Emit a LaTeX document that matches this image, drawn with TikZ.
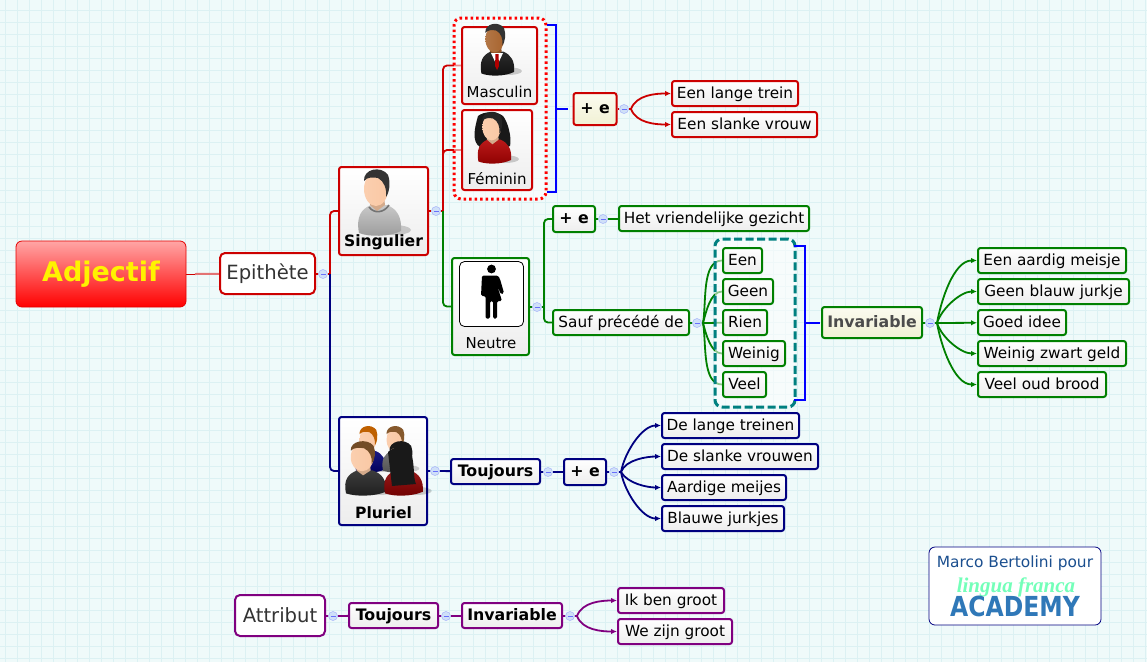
\documentclass[tikz,border=0pt]{standalone}
\usepackage{fontspec}
\setmainfont{DejaVu Sans}
\newfontfamily\logofont{Liberation Serif}
\usetikzlibrary{arrows.meta}
\definecolor{cred}{HTML}{CC0000}
\definecolor{cgreen}{HTML}{008000}
\definecolor{cnavy}{HTML}{000080}
\definecolor{cpurple}{HTML}{800080}
\definecolor{cteal}{HTML}{008080}
\definecolor{cblue}{HTML}{0000FF}
\definecolor{cpaper}{HTML}{EFFAFA}
\definecolor{cgrid}{HTML}{DCF1F3}
\definecolor{cknob}{HTML}{CFE0F8}
\definecolor{cacad}{HTML}{2F78B8}
\definecolor{csign}{HTML}{1B4F8F}
\definecolor{ccreamA}{HTML}{FBFBF0}
\definecolor{ccreamB}{HTML}{F1F1D4}
\definecolor{cface}{HTML}{FAC8A4}
\definecolor{cdark}{HTML}{A8642E}
\pgfdeclarelayer{wirelayer}
\pgfdeclarelayer{grouplayer}
\pgfsetlayers{wirelayer,grouplayer,main}
% bust picture: x, y, scales, clothes, skin, hair
\newcommand{\bustfig}[6]{
	\colorlet{bustcloth}{#4}
	\colorlet{bustskin}{#5}
	\begin{scope}[shift={(#1,#2)},#3]
		\fill[black,opacity=.18] (14,-5) ellipse (18 and 5);
		\shade[top color=bustcloth!90!white,bottom color=bustcloth!80!black] (-20,-2) .. controls (-23,-18) and (-18,-26) .. (-8,-30) -- (8,-30) .. controls (18,-26) and (23,-18) .. (22,-4) .. controls (10,2) and (-10,2) .. (-20,-2) -- cycle;
		\fill[bustskin!85!black] (-9,-38) -- (5,-38) -- (6,-30) -- (-2,-24) -- (-9,-30) -- cycle;
		\shade[left color=bustskin!88!white,right color=bustskin] (-3,-46) ellipse (12 and 17);
		\fill[#6] (-15,-54) .. controls (-16,-66) and (2,-70) .. (9,-60) .. controls (12,-52) and (10,-42) .. (7,-38) .. controls (8,-46) and (5,-54) .. (-1,-57) .. controls (-6,-58) and (-12,-58) .. (-15,-54) -- cycle;
	\end{scope}
}
\tikzset{
	sz/.style 2 args={minimum width=#1-2,minimum height=#2-2},
	leaf/.style={draw,line width=2,rounded corners=2.5,inner sep=0,top color=white,bottom color=black!7,text height=12,text depth=3,font=\fontsize{15.3}{17}\selectfont},
	boldleaf/.style={leaf,font=\fontsize{15.8}{18}\selectfont\bfseries},
	creamleaf/.style={boldleaf,top color=ccreamA,bottom color=ccreamB},
	topic/.style={draw,line width=2,rounded corners=5,fill=white,inner sep=0,text=black!80,font=\fontsize{19.6}{23}\selectfont},
	iconbox/.style={draw,line width=2,rounded corners=2.5,top color=white,bottom color=black!7},
	caption/.style={inner sep=0,font=\fontsize{15}{17}\selectfont},
	boldcaption/.style={inner sep=0,font=\fontsize{15.6}{18}\selectfont\bfseries},
	knob/.style={circle,draw=cknob!80!blue,fill=cknob,line width=.5,minimum size=9,inner sep=0,path picture={\draw[cknob!50!blue,line width=.7] (path picture bounding box.center) ++(-2.5,0) -- ++(5,0);}},
	wire/.style={line width=1.8},
	tipwire/.style={wire,-{Latex[length=6,width=5.5]}},
	groupbox/.style={fill=white,fill opacity=.55,rounded corners=7,inner sep=0},
}
\begin{document}
\begin{tikzpicture}[x=1pt,y=-1pt]
	\useasboundingbox (0,0) rectangle (1147,662);
	\begin{pgfonlayer}{wirelayer}
		\fill[cpaper] (0,0) rectangle (1147,662);
		\foreach \gx in {5,17,...,1145} \draw[cgrid,line width=.7] (\gx,0) -- (\gx,662);
		\foreach \gy in {10.5,22.5,...,660} \draw[cgrid,line width=.7] (0,\gy) -- (1147,\gy);
	\end{pgfonlayer}

	% main topics
	\node[draw=red!90!black,line width=.8,rounded corners=6,top color=red!35,bottom color=red,minimum width=170,minimum height=66,text=yellow,font=\fontsize{27}{30}\selectfont\bfseries] (adjectif) at (101,274) {Adjectif};
	\node[topic,draw=cred,sz={97}{43}] (epithete) at (267.5,273.5) {Epithète};
	\node[topic,draw=cpurple,sz={92}{43}] (attribut) at (280,615.5) {Attribut};

	% singulier branch
	\node[iconbox,draw=cred,sz={91}{90}] (singulier) at (383.5,211) {};
	\node[boldcaption] (singtxt) at (383.5,242) {Singulier};
	\node[iconbox,draw=cred,sz={77}{79}] (masculin) at (499.5,65.5) {};
	\node[caption] (masctxt) at (499.5,92) {Masculin};
	\node[iconbox,draw=cred,sz={72}{82}] (feminin) at (497,150) {};
	\node[caption] (femtxt) at (497,179) {Féminin};
	\node[creamleaf,draw=cred,sz={45}{34}] (pluseA) at (595,109) {+ e};
	\node[leaf,draw=cred,sz={128}{27}] (langetrein) at (735,93.5) {Een lange trein};
	\node[leaf,draw=cred,sz={147}{27}] (slankevrouw) at (744.5,124.5) {Een slanke vrouw};

	% neutre branch
	\node[iconbox,draw=cgreen,sz={79}{99}] (neutre) at (490.5,306.5) {};
	\node[caption] (neuttxt) at (491,343) {Neutre};
	\node[boldleaf,draw=cgreen,sz={44}{28}] (pluseB) at (574,219) {+ e};
	\node[leaf,draw=cgreen,sz={192}{27}] (vriend) at (714,218.5) {Het vriendelijke gezicht};
	\node[leaf,draw=cgreen,sz={138}{27}] (sauf) at (621,322.5) {Sauf précédé de};
	\node[leaf,draw=cgreen,sz={41}{27}] (een) at (742.5,260.5) {Een};
	\node[leaf,draw=cgreen,sz={52}{27}] (geen) at (748,291.5) {Geen};
	\node[leaf,draw=cgreen,sz={46}{27}] (rien) at (745,322.5) {Rien};
	\node[leaf,draw=cgreen,sz={64}{27}] (weinig) at (754,353.5) {Weinig};
	\node[leaf,draw=cgreen,sz={45}{27}] (veel) at (744.5,384.5) {Veel};
	\node[creamleaf,text=black!70,draw=cgreen,sz={102}{33}] (invarA) at (872,322.5) {Invariable};
	\node[leaf,draw=cgreen,sz={150}{27}] (aardig) at (1052,260.5) {Een aardig meisje};
	\node[leaf,draw=cgreen,sz={153}{27}] (blauw) at (1053.5,291.5) {Geen blauw jurkje};
	\node[leaf,draw=cgreen,sz={90}{27}] (goed) at (1022,322.5) {Goed idee};
	\node[leaf,draw=cgreen,sz={150}{27}] (zwart) at (1052,353.5) {Weinig zwart geld};
	\node[leaf,draw=cgreen,sz={130}{27}] (oud) at (1042,384.5) {Veel oud brood};

	% pluriel branch
	\node[iconbox,draw=cnavy,sz={90}{110}] (pluriel) at (383,471) {};
	\node[boldcaption] (plurtxt) at (383.5,513) {Pluriel};
	\node[boldleaf,draw=cnavy,sz={91}{27}] (toujoursA) at (495.5,471.5) {Toujours};
	\node[boldleaf,draw=cnavy,sz={44}{28}] (pluseC) at (585,472) {+ e};
	\node[leaf,draw=cnavy,sz={139}{27}] (treinen) at (730.5,425.5) {De lange treinen};
	\node[leaf,draw=cnavy,sz={158}{27}] (vrouwen) at (740,456.5) {De slanke vrouwen};
	\node[leaf,draw=cnavy,sz={126}{27}] (meijes) at (724,487.5) {Aardige meijes};
	\node[leaf,draw=cnavy,sz={124}{27}] (jurkjes) at (723,518.5) {Blauwe jurkjes};

	% attribut branch
	\node[boldleaf,draw=cpurple,sz={91}{27}] (toujoursB) at (393.5,615.5) {Toujours};
	\node[boldleaf,draw=cpurple,sz={102}{27}] (invarB) at (512,615.5) {Invariable};
	\node[leaf,draw=cpurple,sz={108}{27}] (ikben) at (671,600.5) {Ik ben groot};
	\node[leaf,draw=cpurple,sz={116}{27}] (wezijn) at (675,631.5) {We zijn groot};

	% collapse marks
	\node[knob] (kepi) at (323,274) {};
	\node[knob] (ksing) at (436,211) {};
	\node[knob] (kneut) at (537,307) {};
	\node[knob] (kpluseA) at (624,109) {};
	\node[knob] (kpluseB) at (603,219) {};
	\node[knob] (ksauf) at (697,323) {};
	\node[knob] (kinvarA) at (930,323) {};
	\node[knob] (kplur) at (435,471) {};
	\node[knob] (ktouA) at (548,472) {};
	\node[knob] (kpluseC) at (614,472) {};
	\node[knob] (kattr) at (333,616) {};
	\node[knob] (ktouB) at (446,616) {};
	\node[knob] (kinvarB) at (570,616) {};

	% junctions
	\coordinate (adjfade) at (195,274);
	\coordinate (epifork) at (330,274);
	\coordinate (singfork) at (443,211);
	\coordinate (neutfork) at (544,307);
	\coordinate (pluseAfork) at (631,109);
	\coordinate (saufFork) at (703,323);
	\coordinate (invarFork) at (937,323);
	\coordinate (pluseCfork) at (621,472);
	\coordinate (invarBfork) at (577,616);
	\coordinate (brkAtop) at (547,25);
	\coordinate (brkAbot) at (547,192);
	\coordinate (brkAmid) at (556,109);
	\coordinate (brkAend) at (568,109);
	\coordinate (brkBtop) at (794,246);
	\coordinate (brkBbot) at (794,400);
	\coordinate (brkBmid) at (805,323);
	\coordinate (brkBend) at (820,323);

	\begin{pgfonlayer}{wirelayer}
		\draw[cred,line width=1] (adjectif) -- (adjfade);
		\draw[cred!55,line width=2] (adjfade) -- (epithete);
		\draw[wire,cred] (epithete) -- (kepi);
		\draw[wire,cred] (kepi) -- (epifork);
		\draw[wire,cred,rounded corners=4] (epifork) |- (singulier);
		\draw[wire,cnavy,rounded corners=4] (epifork) |- (pluriel);
		\draw[wire,cred] (singulier) -- (ksing) -- (singfork);
		\draw[wire,cred,rounded corners=4] (singfork) |- (masculin);
		\draw[wire,cred,rounded corners=4] (singfork) |- (feminin);
		\draw[wire,cgreen,rounded corners=4] (singfork) |- (neutre);
		\draw[wire,cred] (pluseA) -- (kpluseA) -- (pluseAfork);
		\draw[tipwire,cred] (pluseAfork) to[out=70,in=180,looseness=.9] (langetrein);
		\draw[tipwire,cred] (pluseAfork) to[out=-70,in=180,looseness=.9] (slankevrouw);
		\draw[wire,cgreen] (neutre) -- (kneut) -- (neutfork);
		\draw[wire,cgreen,rounded corners=4] (neutfork) |- (pluseB);
		\draw[wire,cgreen,rounded corners=4] (neutfork) |- (sauf);
		\draw[wire,cgreen] (pluseB) -- (kpluseB) -- (vriend);
		\draw[wire,cgreen] (sauf) -- (ksauf) -- (saufFork);
		\foreach \leafname/\outangle in {een/80,geen/75,weinig/-75,veel/-80}
			\draw[wire,cgreen] (saufFork) to[out=\outangle,in=180,looseness=.8] (\leafname);
		\draw[wire,cgreen] (saufFork) -- (rien);
		\draw[wire,cgreen] (invarA) -- (kinvarA) -- (invarFork);
		\foreach \leafname/\outangle in {aardig/80,blauw/72,zwart/-72,oud/-80}
			\draw[tipwire,cgreen] (invarFork) to[out=\outangle,in=180,looseness=.8] (\leafname);
		\draw[tipwire,cgreen] (invarFork) -- (goed);
		\draw[wire,cnavy] (pluriel) -- (kplur) -- (toujoursA);
		\draw[wire,cnavy] (toujoursA) -- (ktouA) -- (pluseC);
		\draw[wire,cnavy] (pluseC) -- (kpluseC) -- (pluseCfork);
		\foreach \leafname/\outangle in {treinen/80,vrouwen/70,meijes/-60,jurkjes/-80}
			\draw[tipwire,cnavy] (pluseCfork) to[out=\outangle,in=180,looseness=.8] (\leafname);
		\draw[wire,cpurple] (attribut) -- (kattr) -- (toujoursB);
		\draw[wire,cpurple] (toujoursB) -- (ktouB) -- (invarB);
		\draw[wire,cpurple] (invarB) -- (kinvarB) -- (invarBfork);
		\draw[tipwire,cpurple] (invarBfork) to[out=70,in=180,looseness=.9] (ikben);
		\draw[tipwire,cpurple] (invarBfork) to[out=-70,in=180,looseness=.9] (wezijn);
	\end{pgfonlayer}

	% boundaries
	\begin{pgfonlayer}{grouplayer}
		\node[groupbox,draw=red,line width=3,dash pattern=on 2.5pt off 3pt,draw opacity=1,minimum width=92,minimum height=181] (gendergroup) at (500,108.5) {};
		\node[groupbox,draw=cteal,line width=3,dash pattern=on 8pt off 3.5pt,draw opacity=1,minimum width=80,minimum height=168] (lidgroup) at (755,323) {};
		\draw[wire,cblue] (brkAtop) -| (brkAmid) |- (brkAbot);
		\draw[wire,cblue] (brkAmid) -- (brkAend);
		\draw[wire,cblue] (brkBtop) -| (brkBmid) |- (brkBbot);
		\draw[wire,cblue] (brkBmid) -- (brkBend);
	\end{pgfonlayer}

	% pictures inside the boxes
	\bustfig{379}{235}{scale=1}{black!24}{cface}{black!80}
	\draw[black!55,line width=1.6] (369,207) .. controls (374,214) and (384,213) .. (389,205);
	\bustfig{497}{75}{scale=.78}{black!92}{cdark}{black!80}
	\fill[white] (491,53) -- (503,53) -- (497,66) -- cycle;
	\fill[red!70!black] (495.5,54) -- (498.5,54) -- (499,66) -- (497,70) -- (495,66) -- cycle;
	\fill[black!90] (478,116) .. controls (474,130) and (472,142) .. (480,147) .. controls (486,150) and (504,150) .. (510,146) .. controls (512,138) and (508,122) .. (503,116) .. controls (497,111) and (484,111) .. (478,116) -- cycle;
	\bustfig{494}{163}{scale=.78}{red!70!black}{cface}{black!85}

	% neutre sign
	\node[draw=black,line width=.8,rounded corners=5,fill=white,minimum width=64,minimum height=65,inner sep=0] (sign) at (491.5,294) {};
	\fill[black] (491.5,269) circle (4.4);
	\fill[black,rounded corners=1.5] (482,275.5) -- (498,275.5) -- (500,279) -- (504,293) -- (501,294.5) -- (497,285) -- (502,301) -- (497,301) -- (497,318.5) -- (493,318.5) -- (493,301) -- (490,301) -- (490,318.5) -- (485.5,318.5) -- (485.5,296) -- (481,296) -- cycle;

	% plural group
	\bustfig{370}{472}{scale=.7}{blue!45!black}{cface}{orange!75!black}
	\bustfig{397}{472}{scale=.7}{black!60}{cface}{brown!70!black}
	\bustfig{365}{495}{xscale=.95,yscale=.82}{black!85}{cface}{brown!60!black}
	\bustfig{403}{495}{xscale=.9,yscale=.82}{red!55!black}{cface}{black!90}
	\fill[black!90] (388,452) .. controls (395,445) and (408,445) .. (411,452) .. controls (415,465) and (413,478) .. (416,484) -- (392,486) -- cycle;

	% signature
	\node[draw=cnavy,line width=.8,rounded corners=6,fill=white,minimum width=172,minimum height=78,inner sep=0] (signature) at (1015,586) {};
	\node[inner sep=0,text=csign,font=\fontsize{15.4}{17}\selectfont] (author) at (1015,563) {Marco Bertolini pour};
	\node[inner sep=0,text=green!50!cyan!55,font=\logofont\fontsize{21}{23}\selectfont\bfseries\itshape] (lingua) at (1016,587) {lingua franca};
	\node[inner sep=0,text=cacad,font=\fontsize{24}{26}\selectfont\bfseries] (academy) at (1015,606) {\scalebox{.98}[1.15]{ACADEMY}};
\end{tikzpicture}
\end{document}
